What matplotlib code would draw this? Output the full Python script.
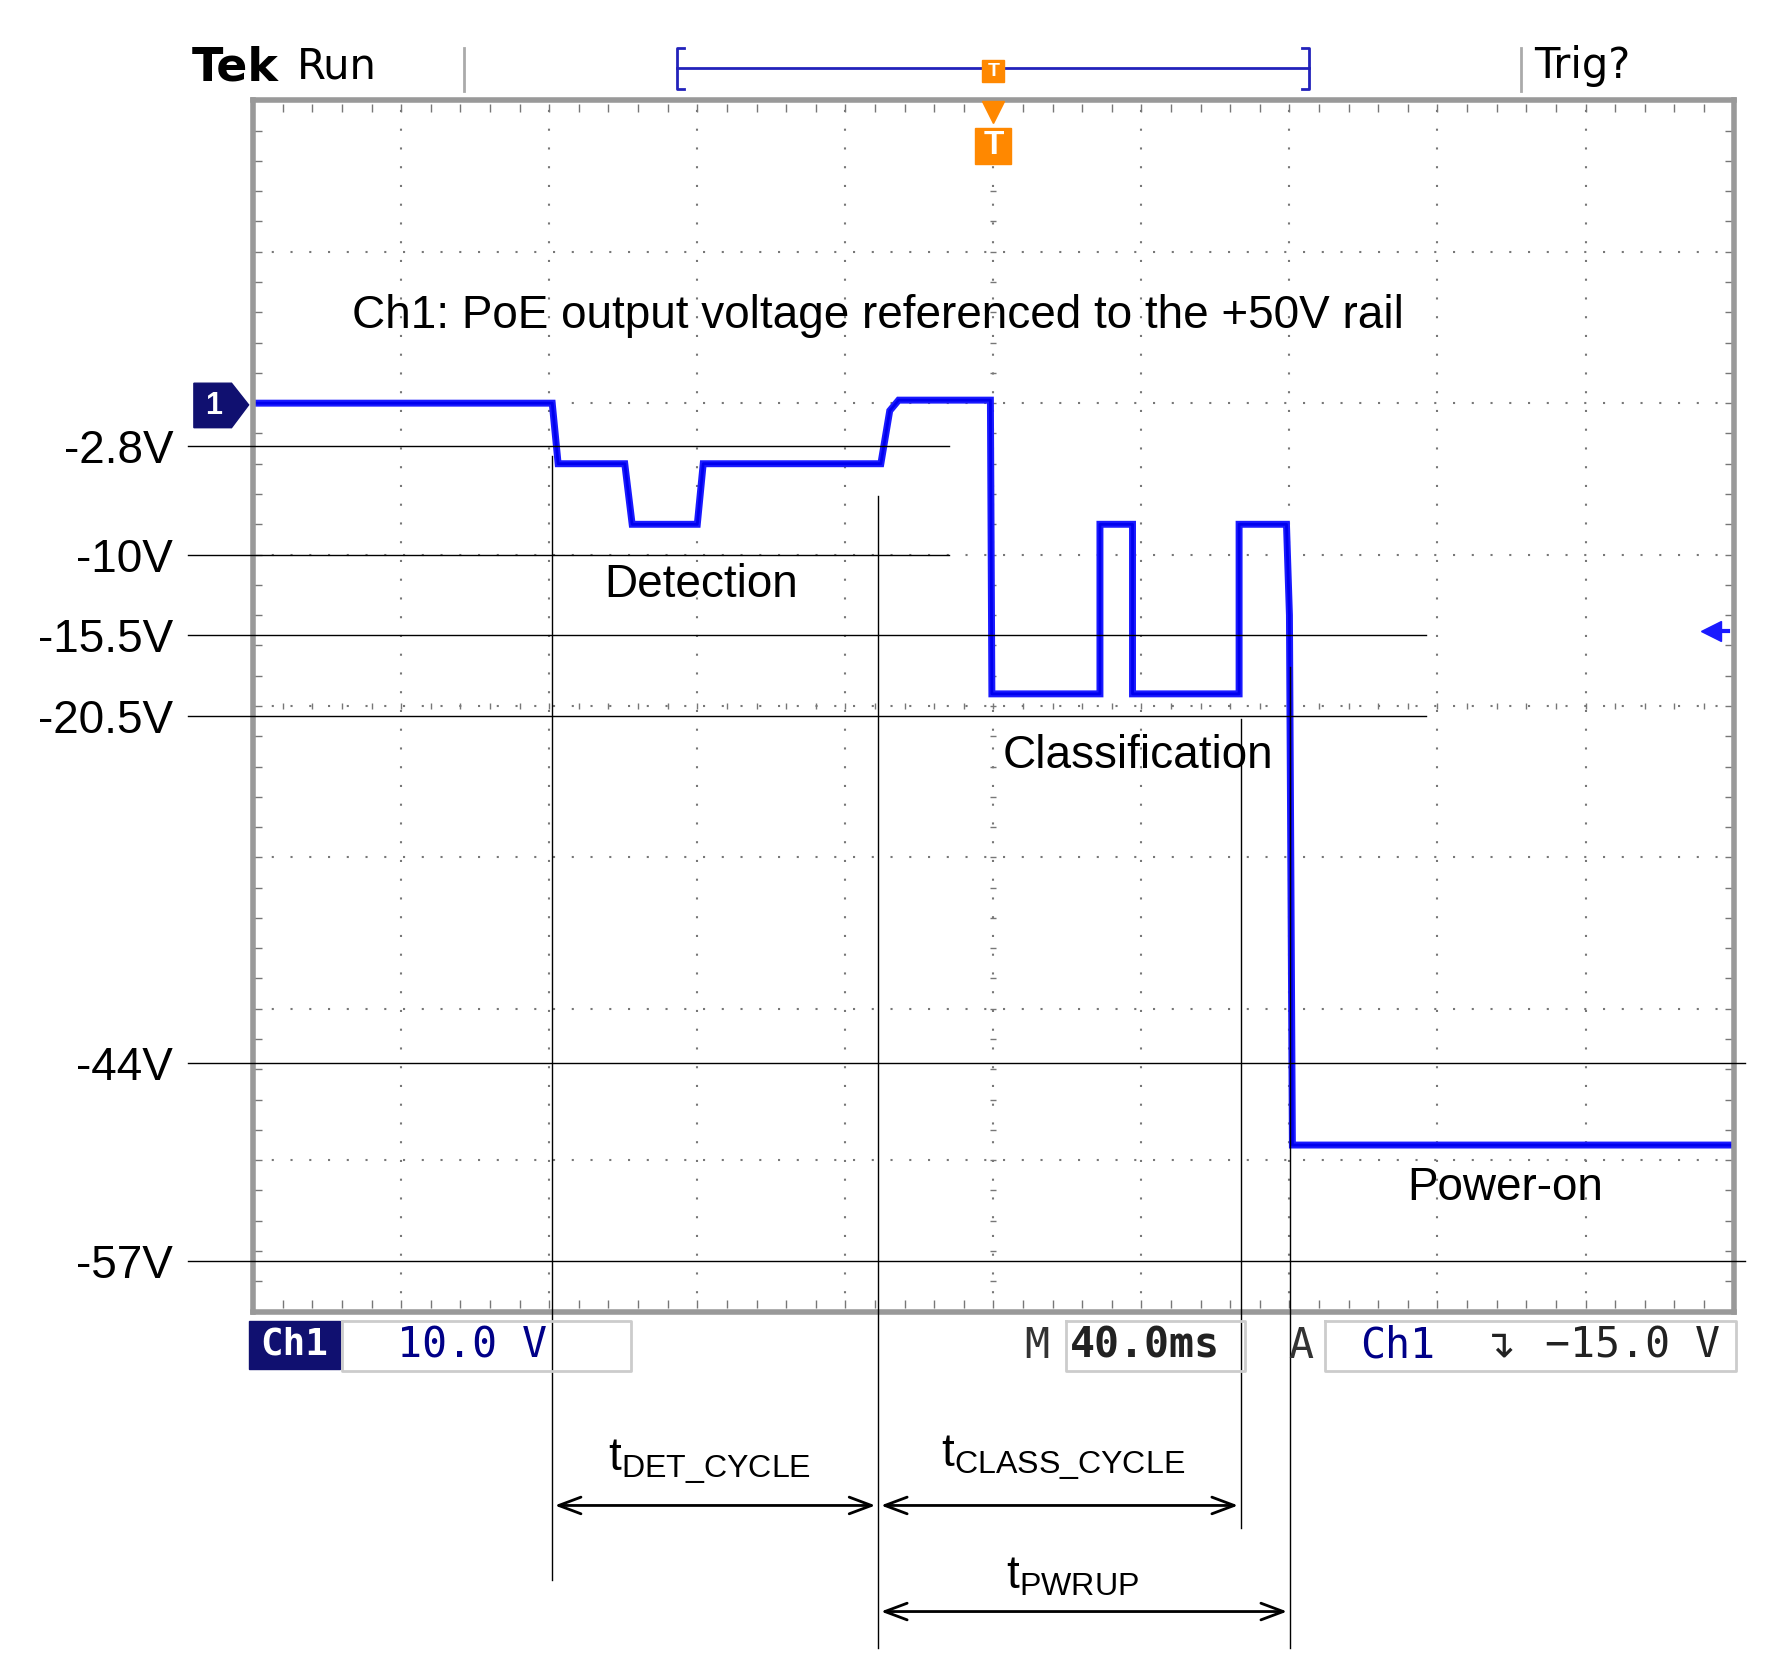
import matplotlib
matplotlib.use("Agg")
import matplotlib.pyplot as plt
import numpy as np

# reference drawn in a 1560 x 1453 px layout, scaled to output
W, H = 1566.0, 1459.0

# trace breakpoints in scope divisions (x: 0..10, y: 0..8 from bottom)
trace_x = [0.0, 2.02, 2.06, 2.51, 2.56, 3.0, 3.04, 4.24, 4.3, 4.36, 4.98, 4.99,
           5.72, 5.72, 5.94, 5.94, 6.66, 6.66, 6.98, 7.0, 7.02, 10.0]
trace_y = [6.0, 6.0, 5.6, 5.6, 5.2, 5.2, 5.6, 5.6, 5.95, 6.02, 6.02, 4.08,
           4.08, 5.2, 5.2, 4.08, 4.08, 5.2, 5.2, 4.6, 1.1, 1.1]

ref_labels = ["-2.8V", "-10V", "-15.5V", "-20.5V", "-44V", "-57V"]
ref_y = [391, 487, 557, 628, 932, 1106]
ref_x1 = [832, 832, 1250, 1250, 1530, 1530]

phase_labels = ["Detection", "Classification", "Power-on"]
phase_pos = [(615, 513), (998, 663), (1320, 1042)]

fig = plt.figure(figsize=(17.86, 16.64), dpi=100)
plt.rcParams["font.family"] = ["Liberation Sans", "DejaVu Sans"]

# scope screen
L, R, T, B = 222, 1520, 88, 1150
ax = fig.add_axes([L / W, 1 - B / H, (R - L) / W, (B - T) / H])
ax.set_xlim(0, 10)
ax.set_ylim(0, 8)
ax.set_xticks([])
ax.set_yticks([])
for sp in ax.spines.values():
    sp.set_color("#999999")
    sp.set_linewidth(4)
for i in range(1, 10):
    ax.axvline(i, color="#777777", lw=1.5, ls=(0, (1, 8)))
for j in range(1, 8):
    ax.axhline(j, color="#777777", lw=1.5, ls=(0, (1, 8)))
minor = np.arange(0, 10.01, 0.2)
ax.plot(minor, np.full_like(minor, 4.0), ls="none", marker="|", ms=5, color="#777777")
ax.plot(minor, np.full_like(minor, 0.05), ls="none", marker="|", ms=6, color="#777777")
ax.plot(minor, np.full_like(minor, 7.95), ls="none", marker="|", ms=6, color="#777777")
minor_y = np.arange(0, 8.01, 0.2)
ax.plot(np.full_like(minor_y, 5.0), minor_y, ls="none", marker="_", ms=5, color="#777777")
ax.plot(np.full_like(minor_y, 0.03), minor_y, ls="none", marker="_", ms=6, color="#777777")
ax.plot(np.full_like(minor_y, 9.97), minor_y, ls="none", marker="_", ms=6, color="#777777")
ax.plot(trace_x, trace_y, color="#1a1aff", lw=5, solid_joinstyle="miter")
ax.plot(trace_x, trace_y, color="#0000ee", lw=2)

# overlay for annotations in layout pixels
ov = fig.add_axes([0, 0, 1, 1], facecolor="none")
ov.set_xlim(0, W)
ov.set_ylim(H, 0)
ov.axis("off")

for lab, y, x1 in zip(ref_labels, ref_y, ref_x1):
    ov.plot([165, x1], [y, y], color="black", lw=1)
    ov.text(152, y + 4, lab, ha="right", va="center", fontsize=33)

for x, y0, y1 in [(484, 400, 1385), (770, 435, 1445), (1088, 630, 1340), (1131, 585, 1445)]:
    ov.plot([x, x], [y0, y1], color="black", lw=1)

ov.text(770, 277, "Ch1: PoE output voltage referenced to the +50V rail",
        ha="center", va="center", fontsize=33)
for lab, (x, y) in zip(phase_labels, phase_pos):
    ov.text(x, y, lab, ha="center", va="center", fontsize=33)

arrow = dict(arrowstyle="<->,head_length=1.6,head_width=0.6", color="black", lw=2)
ov.annotate("", xy=(484, 1320), xytext=(770, 1320), arrowprops=arrow)
ov.annotate("", xy=(770, 1320), xytext=(1088, 1320), arrowprops=arrow)
ov.annotate("", xy=(770, 1413), xytext=(1131, 1413), arrowprops=arrow)
ov.text(622, 1282, r"t$_{\mathregular{DET\_CYCLE}}$", ha="center", va="center", fontsize=33)
ov.text(932, 1278, r"t$_{\mathregular{CLASS\_CYCLE}}$", ha="center", va="center", fontsize=33)
ov.text(940, 1382, r"t$_{\mathregular{PWRUP}}$", ha="center", va="center", fontsize=33)

# header
ov.text(168, 60, "Tek", fontsize=33, fontweight="bold", va="center", family="DejaVu Sans")
ov.text(260, 58, "Run", fontsize=30, va="center", family="DejaVu Sans")
ov.plot([407, 407], [42, 80], color="#aaaaaa", lw=2)
ov.plot([1334, 1334], [42, 80], color="#aaaaaa", lw=2)
ov.text(1345, 58, "Trig?", fontsize=30, va="center", family="DejaVu Sans")
ov.plot([594, 1148], [60, 60], color="#2222bb", lw=2)
ov.plot([600, 594, 594, 600], [42, 42, 78, 78], color="#2222bb", lw=2)
ov.plot([1142, 1148, 1148, 1142], [42, 42, 78, 78], color="#2222bb", lw=2)
ov.plot([871], [62], marker="s", ms=16, color="#ff8800")
ov.plot([871], [98], marker="v", ms=16, color="#ff8800")
ov.plot([871], [128], marker="s", ms=26, color="#ff8800")
ov.text(871, 63, "T", color="white", fontsize=14, ha="center", va="center", fontweight="bold")
ov.text(871, 128, "T", color="white", fontsize=24, ha="center", va="center", fontweight="bold")

# channel marker and trigger level arrow
ov.fill([170, 203, 218, 203, 170], [336, 336, 355, 375, 375], color="#101070")
ov.text(187, 356, "1", color="white", fontsize=22, ha="center", va="center", fontweight="bold")
ov.plot([1500], [553], marker="<", ms=14, color="#1a1aff")
ov.plot([1500, 1515], [553, 553], color="#1a1aff", lw=3)

# status bar
mono = "DejaVu Sans Mono"
ov.fill([218, 298, 298, 218], [1158, 1158, 1200, 1200], color="#101070")
ov.text(258, 1179, "Ch1", color="white", fontsize=27, ha="center", va="center",
        fontweight="bold", family=mono)
for x0, x1 in [(300, 553), (935, 1092), (1162, 1522)]:
    ov.plot([x0, x1, x1, x0, x0], [1158, 1158, 1202, 1202, 1158], color="#cccccc", lw=2)
ov.text(348, 1180, "10.0 V", color="#000088", fontsize=30, va="center", family=mono)
ov.text(898, 1180, "M", color="#333333", fontsize=30, va="center", family=mono)
ov.text(938, 1180, "40.0ms", color="#222222", fontsize=30, va="center", family=mono, fontweight="bold")
ov.text(1130, 1180, "A", color="#333333", fontsize=30, va="center", family=mono)
ov.text(1193, 1180, "Ch1", color="#000088", fontsize=30, va="center", family=mono)
ov.text(1300, 1180, "\u21b4", color="#222222", fontsize=28, va="center", family="DejaVu Sans")
ov.text(1355, 1180, "\u221215.0 V", color="#222222", fontsize=30, va="center", family=mono)

fig.savefig("out.png", dpi=100)
